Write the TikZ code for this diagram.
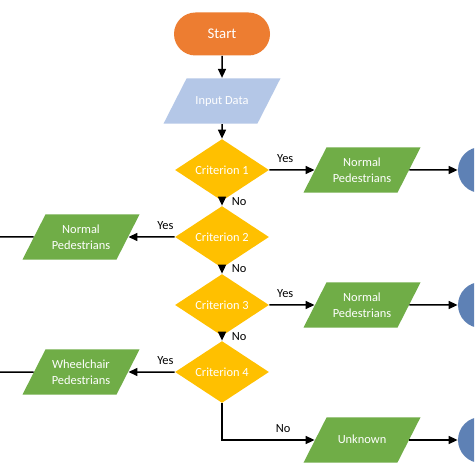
\documentclass[tikz,border=0pt]{standalone}
\usepackage{fontspec}
\newfontfamily\calibri{Carlito}
\usetikzlibrary{shapes.geometric,shapes.misc,arrows.meta}

\definecolor{startorange}{RGB}{237,125,49}
\definecolor{inputblue}{RGB}{180,199,231}
\definecolor{critgold}{RGB}{255,192,0}
\definecolor{classgreen}{RGB}{112,173,71}
\definecolor{endblue}{RGB}{94,129,181}

\tikzset{
  flowtext/.style={font=\calibri\fontsize{6.2}{7.2}\selectfont,text=white,align=center,inner sep=0pt},
  terminal/.style={flowtext,rounded rectangle,fill=startorange,minimum width=48pt,minimum height=21.5pt,font=\calibri\fontsize{7.4}{8}\selectfont},
  iobox/.style={flowtext,trapezium,trapezium left angle=63,trapezium right angle=117,
    trapezium stretches body,inner ysep=5pt,minimum width=58.5pt,minimum height=22.5pt},
  oneline/.style={inner ysep=8.5pt,text height=4.5pt,text depth=1.2pt},
  inputbox/.style={iobox,fill=inputblue},
  classbox/.style={iobox,fill=classgreen},
  criterion/.style={flowtext,diamond,fill=critgold,minimum width=47pt,minimum height=22pt},
  endpoint/.style={circle,fill=endblue,minimum size=23pt,inner sep=0pt},
  answer/.style={font=\calibri\fontsize{6.2}{7.2}\selectfont,text=black,inner sep=1.5pt},
  flow/.style={line width=0.75pt,-{Triangle[length=4.5pt,width=4pt]}},
  exit/.style={line width=0.75pt}
}

\begin{document}
\begin{tikzpicture}[x=0.5pt,y=-0.5pt]
\clip (0,0) rectangle (474,474);
\fill[white] (0,0) rectangle (474,474);

% main column
\node[terminal] (start) at (222,34) {Start};
\node[inputbox,oneline] (input) at (222,101) {Input Data};
\node[criterion] (crit1) at (222,170) {Criterion 1};
\node[criterion] (crit2) at (222,237) {Criterion 2};
\node[criterion] (crit3) at (222,305) {Criterion 3};
\node[criterion] (crit4) at (222,372) {Criterion 4};

% classes
\node[classbox] (normal1) at (362,170) {Normal\\[1pt]Pedestrians};
\node[classbox] (normal2) at (81,237) {Normal\\[1pt]Pedestrians};
\node[classbox] (normal3) at (362,305) {Normal\\[1pt]Pedestrians};
\node[classbox] (wheel) at (81,372) {Wheelchair\\[1pt]Pedestrians};
\node[classbox,oneline] (unknown) at (362,440) {Unknown};

% end points, cut off at the edges
\node[endpoint] (end1) at (481,170) {};
\node[endpoint] (end3) at (481,305) {};
\node[endpoint] (end5) at (481,440) {};
\coordinate (out2) at (-10,237);
\coordinate (out4) at (-10,372);

\draw[flow] (start) -- (input);
\draw[flow] (input) -- (crit1);
\draw[flow] (crit1) -- node[answer,right,xshift=3pt,yshift=1pt] {No} (crit2);
\draw[flow] (crit2) -- node[answer,right,xshift=3pt,yshift=1pt] {No} (crit3);
\draw[flow] (crit3) -- node[answer,right,xshift=3pt,yshift=1pt] {No} (crit4);

\draw[flow] (crit1.east) -- node[answer,above,pos=0.35,yshift=2pt] {Yes} (normal1);
\draw[flow] (crit2.west) -- node[answer,above,pos=0.2,yshift=2pt] {Yes} (normal2);
\draw[flow] (crit3.east) -- node[answer,above,pos=0.35,yshift=2pt] {Yes} (normal3);
\draw[flow] (crit4.west) -- node[answer,above,pos=0.2,yshift=2pt] {Yes} (wheel);
\draw[flow] (crit4.south) |- node[answer,above,pos=0.83,yshift=2pt] {No} (unknown);

\draw[flow] (normal1) -- (end1);
\draw[flow] (normal3) -- (end3);
\draw[flow] (unknown) -- (end5);
\draw[exit] (normal2) -- (out2);
\draw[exit] (wheel) -- (out4);
\end{tikzpicture}
\end{document}
